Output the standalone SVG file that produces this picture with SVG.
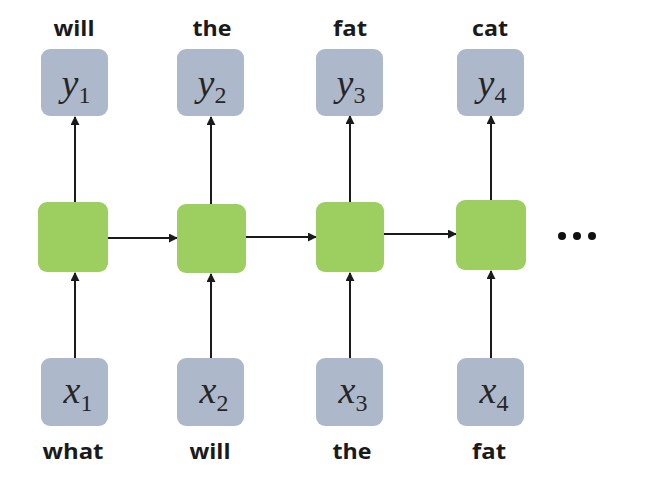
<svg xmlns="http://www.w3.org/2000/svg" width="656" height="502" viewBox="0 0 656 502">
<defs>
<style>
.io{fill:#ADB9CA;}
.cell{fill:#9DCF60;}
.lbl{font-family:"Open Sans","Liberation Sans",sans-serif;font-weight:700;font-size:22px;fill:#1a1a1a;text-anchor:middle;}
.math{font-family:"Liberation Serif","Times New Roman",serif;font-size:38px;fill:#262626;text-anchor:middle;}
.math .v{font-style:italic;}
.math .s{font-size:24px;}
.conn line{stroke:#1a1a1a;stroke-width:2;}
</style>
<marker id="ah" viewBox="0 0 10 10" refX="9" refY="5" markerWidth="4.5" markerHeight="4.5" orient="auto" markerUnits="strokeWidth">
<path d="M0,0 L10,5 L0,10 Z" fill="#1a1a1a"/>
</marker>
</defs>
<rect width="656" height="502" fill="#ffffff"/>

<g id="connectors" class="conn">
<line x1="75" y1="202" x2="75" y2="117" marker-end="url(#ah)"/>
<line x1="211" y1="204" x2="211" y2="117" marker-end="url(#ah)"/>
<line x1="350" y1="202" x2="350" y2="116" marker-end="url(#ah)"/>
<line x1="491" y1="200" x2="491" y2="116" marker-end="url(#ah)"/>
<line x1="75" y1="358" x2="75" y2="273" marker-end="url(#ah)"/>
<line x1="211" y1="358" x2="211" y2="274" marker-end="url(#ah)"/>
<line x1="350" y1="358" x2="350" y2="273" marker-end="url(#ah)"/>
<line x1="491" y1="358" x2="491" y2="271" marker-end="url(#ah)"/>
<line x1="108" y1="238" x2="177" y2="238" marker-end="url(#ah)"/>
<line x1="246" y1="237" x2="316" y2="237" marker-end="url(#ah)"/>
<line x1="384" y1="234" x2="456" y2="234" marker-end="url(#ah)"/>
</g>

<g id="h1"><rect class="cell" x="38" y="202" width="70" height="70" rx="9"/></g>
<g id="h2"><rect class="cell" x="177" y="204" width="69" height="69" rx="9"/></g>
<g id="h3"><rect class="cell" x="316" y="202" width="68" height="70" rx="9"/></g>
<g id="h4"><rect class="cell" x="456" y="200" width="70" height="70" rx="9"/></g>

<g id="y1"><rect class="io" x="41" y="49" width="67" height="67" rx="9"/>
<text class="math" x="76" y="96"><tspan class="v">y</tspan><tspan class="s" dy="7">1</tspan></text>
<text class="lbl" x="74" y="36" textLength="41" lengthAdjust="spacingAndGlyphs">will</text></g>
<g id="y2"><rect class="io" x="177" y="49" width="67" height="67" rx="9"/>
<text class="math" x="212" y="96"><tspan class="v">y</tspan><tspan class="s" dy="7">2</tspan></text>
<text class="lbl" x="212" y="36" textLength="39" lengthAdjust="spacingAndGlyphs">the</text></g>
<g id="y3"><rect class="io" x="316" y="49" width="67" height="67" rx="9"/>
<text class="math" x="351" y="96"><tspan class="v">y</tspan><tspan class="s" dy="7">3</tspan></text>
<text class="lbl" x="350" y="36" textLength="34" lengthAdjust="spacingAndGlyphs">fat</text></g>
<g id="y4"><rect class="io" x="457" y="49" width="67" height="67" rx="9"/>
<text class="math" x="492" y="96"><tspan class="v">y</tspan><tspan class="s" dy="7">4</tspan></text>
<text class="lbl" x="490" y="36" textLength="36" lengthAdjust="spacingAndGlyphs">cat</text></g>

<g id="x1"><rect class="io" x="41" y="358" width="67" height="68" rx="9"/>
<text class="math" x="78" y="403"><tspan class="v">x</tspan><tspan class="s" dy="8">1</tspan></text>
<text class="lbl" x="73" y="459" textLength="61" lengthAdjust="spacingAndGlyphs">what</text></g>
<g id="x2"><rect class="io" x="177" y="358" width="67" height="68" rx="9"/>
<text class="math" x="214" y="403"><tspan class="v">x</tspan><tspan class="s" dy="8">2</tspan></text>
<text class="lbl" x="210" y="459" textLength="41" lengthAdjust="spacingAndGlyphs">will</text></g>
<g id="x3"><rect class="io" x="316" y="358" width="67" height="68" rx="9"/>
<text class="math" x="353" y="403"><tspan class="v">x</tspan><tspan class="s" dy="8">3</tspan></text>
<text class="lbl" x="352" y="459" textLength="39" lengthAdjust="spacingAndGlyphs">the</text></g>
<g id="x4"><rect class="io" x="457" y="358" width="67" height="68" rx="9"/>
<text class="math" x="494" y="403"><tspan class="v">x</tspan><tspan class="s" dy="8">4</tspan></text>
<text class="lbl" x="489" y="459" textLength="34" lengthAdjust="spacingAndGlyphs">fat</text></g>

<g id="ellipsis" fill="#111111">
<circle cx="562" cy="236" r="4"/>
<circle cx="577" cy="236" r="4"/>
<circle cx="592" cy="236" r="4"/>
</g>
</svg>
